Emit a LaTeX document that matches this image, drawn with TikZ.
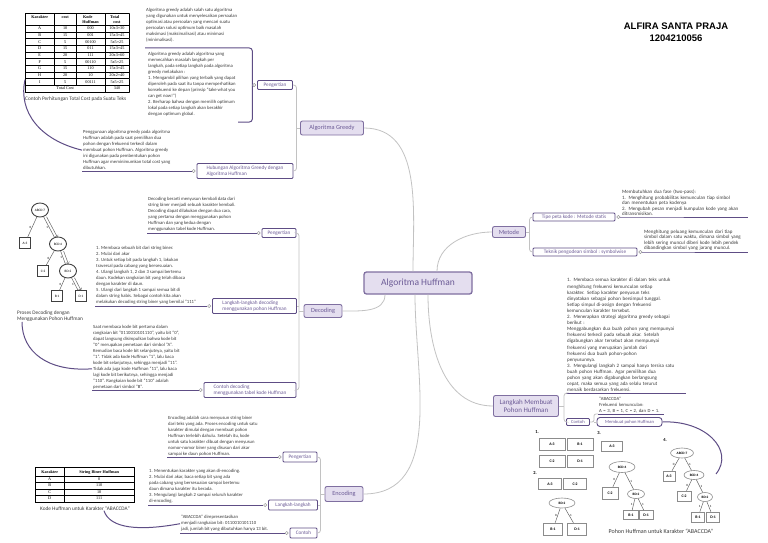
\documentclass[tikz,border=0pt]{standalone}
\usepackage{fontspec}
\setmainfont{Carlito}
\newfontfamily\titlefont{Liberation Sans}
\newfontfamily\tabfont{Liberation Serif}
\usepackage{array}
\usepackage{xcolor}
\usetikzlibrary{shapes.geometric,arrows,positioning}

\definecolor{mmfill}{HTML}{E4DEEF}
\definecolor{mmedge}{HTML}{7F6FA0}
\definecolor{mmtext}{HTML}{6C5B96}
\definecolor{mmline}{HTML}{5E4D85}
\definecolor{linegray}{HTML}{C2C2C2}
\definecolor{knobgray}{HTML}{9A9A9A}
\definecolor{notegray}{HTML}{3A3A3A}

\newcolumntype{C}[1]{>{\centering\arraybackslash}p{#1}}
\setlength{\tabcolsep}{1pt}

\begin{document}
\begin{tikzpicture}[x=1pt, y=-1pt,
    central/.style={rectangle, draw=mmedge, line width=1.3pt, fill=mmfill, rounded corners=2.5pt, text=mmtext, font=\fontsize{9.5}{11}\selectfont, minimum width=108pt, minimum height=22pt},
    topic/.style={rectangle, draw=mmedge, line width=0.9pt, fill=mmfill, rounded corners=2pt, text=mmtext, font=\fontsize{6.3}{7.5}\selectfont, align=center, inner sep=1pt},
    subtopic/.style={rectangle, draw=mmline, line width=0.9pt, fill=white, rounded corners=1pt, text=mmtext, font=\fontsize{5.2}{6.2}\selectfont, align=left, inner sep=1pt},
    note/.style={align=left, inner sep=1pt, text=notegray, font=\fontsize{4.7}{6}\selectfont},
    caption/.style={align=left, inner sep=0pt, text=notegray, font=\fontsize{5.3}{6}\selectfont},
    knob/.style={circle, draw=knobgray, fill=white, line width=0.5pt, inner sep=0pt, minimum size=3.2pt},
    branch/.style={draw=linegray, line width=0.8pt},
    uline/.style={draw=mmline, line width=1pt},
    relation/.style={draw=mmline, line width=1pt},
    tabnode/.style={draw=black!80, line width=0.7pt, inner sep=0pt, font=\tabfont\fontsize{4.2}{4.9}\selectfont},
    leafbox/.style 2 args={rectangle, draw=black!45, fill=white, line width=0.6pt, inner sep=0pt, minimum width=#1pt, minimum height=#2pt, font=\bfseries\fontsize{3.8}{4}\selectfont},
    joinell/.style 2 args={ellipse, draw=black!45, fill=white, line width=0.6pt, inner sep=0pt, minimum width=#1pt, minimum height=#2pt, font=\bfseries\fontsize{3.4}{4}\selectfont},
    stepnum/.style={font=\bfseries\fontsize{4.5}{5}\selectfont, inner sep=0pt},
    dleaf/.style={rectangle, draw=black!75, fill=white, line width=0.6pt, inner sep=0pt, minimum size=11pt, font=\fontsize{3.4}{4}\selectfont},
    dinner/.style={ellipse, draw=black!75, fill=white, line width=0.9pt, inner sep=0pt, minimum width=17pt, minimum height=14pt, font=\fontsize{3.4}{4}\selectfont},
    tedge/.style={draw=black!60, line width=0.5pt},
    elab/.style={font=\fontsize{3.2}{4}\selectfont, inner sep=0.8pt}
]
\useasboundingbox (0,0) rectangle (768,543);

% Title
\node[font=\titlefont\bfseries\fontsize{9.5}{12.5}\selectfont, align=center] (author) at (676,32) {ALFIRA SANTA PRAJA\\1204210056};

% Central topic
\node[central] (huff) at (418,283) {Algoritma Huffman};

% Main topics
\node[topic, minimum width=63pt, minimum height=14pt] (greedy) at (332,128) {Algoritma Greedy};
\node[topic, minimum width=38pt, minimum height=13pt] (decod) at (323,311) {Decoding};
\node[topic, minimum width=38pt, minimum height=15pt] (encod) at (344,494) {Encoding};
\node[topic, minimum width=33pt, minimum height=11pt] (metode) at (509,232) {Metode};
\node[topic, minimum width=65pt, minimum height=21pt, font=\fontsize{7}{8}\selectfont] (langkah) at (526,406) {Langkah Membuat\\Pohon Huffman};

\draw[branch] (greedy.east) to[out=0, in=90] ([xshift=-5pt]huff.north);
\draw[branch] (metode.west) to[out=180, in=90] ([xshift=19pt]huff.north);
\draw[branch] (decod.east) to[out=0, in=-90] ([xshift=-33pt]huff.south);
\draw[branch] (encod.east) to[out=0, in=-90] ([xshift=-3pt]huff.south);
\draw[branch] (langkah.west) to[out=180, in=-90] ([xshift=10pt]huff.south);

% Algoritma Greedy
\node[subtopic, minimum width=35pt, minimum height=9pt] (gpeng) at (275,85) {Pengertian};
\node[subtopic, minimum width=96pt, minimum height=15pt] (ghub) at (245,171) {Hubungan Algoritma Greedy dengan\\Algoritma Huffman};
\coordinate[left=3.5pt of greedy] (gj);
\draw[branch] (greedy.west) -- (gj);
\draw[branch, rounded corners=3pt] (gpeng.east) -| (gj) |- (ghub.east);
\node[knob, left=1pt of gpeng] (kgpeng) {};
\node[knob, left=1pt of ghub] (kghub) {};

\node[note, anchor=north west] (gdef1) at (145,7) {Algoritma greedy adalah salah satu algoritma\\
yang digunakan untuk menyelesaikan persoalan\\
optimasi atau persoalan yang mencari suatu\\
persoalan solusi optimum baik masalah\\
maksimasi (maksimalisasi) atau minimasi\\
(minimalisasi).};
\node[note, anchor=north west] (gdef2) at (147,51) {Algoritma greedy adalah algoritma yang\\
memecahkan masalah langkah per\\
langkah, pada setiap langkah pada algoritma\\
greedy melakukan :\\
1. Mengambil pilihan yang terbaik yang dapat\\
diperoleh pada saat itu tanpa memperhatikan\\
konsekuensi ke depan (prinsip ``take what you\\
can get now!'')\\
2. Berharap bahwa dengan memilih optimum\\
lokal pada setiap langkah akan berakhir\\
dengan optimum global.};
\draw[uline, rounded corners=3pt] ([xshift=-2pt, yshift=3pt]gdef2.north west) -| (kgpeng.west) |- (238,122);
\node[knob, left=1pt of gpeng] {};

\node[note, anchor=south west] (hubn) at (82,171) {Penggunaan algoritma greedy pada algoritma\\
Huffman adalah pada saat pemilihan dua\\
pohon dengan frekuensi terkecil dalam\\
membuat pohon Huffman. Algoritma greedy\\
ini digunakan pada pembentukan pohon\\
Huffman agar meminimumkan total cost yang\\
dibutuhkan.};
\draw[uline] (hubn.south west) -- (kghub.west);

% Tabel total cost
\node[tabnode, anchor=north west] (costtab) at (25,13) {\renewcommand{\arraystretch}{1.28}%
\begin{tabular}{|C{26pt}|C{20pt}|C{26pt}|C{22pt}|}
\hline
\textbf{Karakter} & \textbf{cost} & \textbf{Kode}\newline\textbf{Huffman} & \textbf{Total}\newline\textbf{cost}\\ \hline
A & 10 & 000 & 10x3=30\\ \hline
B & 15 & 001 & 15x3=45\\ \hline
C & 5 & 00100 & 5x5=25\\ \hline
D & 15 & 011 & 15x3=45\\ \hline
E & 20 & 111 & 20x3=60\\ \hline
F & 5 & 00110 & 5x5=25\\ \hline
G & 15 & 110 & 15x3=45\\ \hline
H & 20 & 10 & 20x2=40\\ \hline
I & 5 & 00111 & 5x5=25\\ \hline
\multicolumn{3}{|c|}{Total Cost} & 340\\ \hline
\end{tabular}};
\node[caption, below=4pt of costtab.south west, anchor=north west] (ccap) {Contoh Perhitungan Total Cost pada Suatu Teks};
\draw[relation] ([yshift=-27pt]costtab.west) .. controls (18,112) and (40,140) .. (hubn.west);

% Decoding
\node[subtopic, minimum width=34pt, minimum height=9pt] (dpeng) at (279,233) {Pengertian};
\node[subtopic, minimum width=84pt, minimum height=15pt] (dlang) at (254.5,306) {Langkah-langkah decoding\\menggunakan pohon Huffman};
\node[subtopic, minimum width=92pt, minimum height=15pt] (dcont) at (250,390) {Contoh decoding\\menggunakan tabel kode Huffman};
\coordinate[left=4.5pt of decod] (dj);
\draw[branch] (decod.west) -- (dj);
\draw[branch, rounded corners=3pt] (dpeng.east) -| (dj) |- (dcont.east);
\draw[branch] (dlang.east) -- (dlang.east -| dj);
\node[knob, left=1pt of dpeng] (kdpeng) {};
\node[knob, left=1pt of dlang] (kdlang) {};
\node[knob, left=1pt of dcont] (kdcont) {};

\node[note, anchor=south west] (dpn) at (147,233) {Decoding berarti menyusun kembali data dari\\
string biner menjadi sebuah karakter kembali.\\
Decoding dapat dilakukan dengan dua cara,\\
yang pertama dengan menggunakan pohon\\
Huffman dan yang kedua dengan\\
menggunakan tabel kode Huffman.};
\draw[uline] (dpn.south west) -- (kdpeng.west);

\node[note, anchor=south west] (dln) at (95,306) {1. Membaca sebuah bit dari string biner.\\
2. Mulai dari akar\\
3. Untuk setiap bit pada langkah 1, lakukan\\
traversal pada cabang yang bersesuaian.\\
4. Ulangi langkah 1, 2 dan 3 sampai bertemu\\
daun. Kodekan rangkaian bit yang telah dibaca\\
dengan karakter di daun.\\
5. Ulangi dari langkah 1 sampai semua bit di\\
dalam string habis. Sebagai contoh kita akan\\
melakukan decoding string biner yang bernilai ``111''};
\draw[uline] (dln.south west) -- (kdlang.west);

\node[note, anchor=south west] (dcn) at (92,390) {Saat membaca kode bit pertama dalam\\
rangkaian bit ``0110010101110'', yaitu bit ``0'',\\
dapat langsung disimpulkan bahwa kode bit\\
``0'' merupakan pemetaan dari simbol ``A''.\\
Kemudian baca kode bit selanjutnya, yaitu bit\\
``1''. Tidak ada kode Huffman ``1'', lalu baca\\
kode bit selanjutnya, sehingga menjadi ``11''.\\
Tidak ada juga kode Huffman ``11'', lalu baca\\
lagi kode bit berikutnya, sehingga menjadi\\
``110''. Rangkaian kode bit ``110'' adalah\\
pemetaan dari simbol ``B''.};
\draw[uline] (dcn.south west) -- (kdcont.west);

% Pohon decoding
\node[dinner] (droot) at (40,210) {ABCD:7};
\node[dleaf] (dA) at (25,243) {A:3};
\node[dinner] (dBCD) at (58,244) {BCD:4};
\node[dleaf] (dC) at (43,271) {C:2};
\node[dinner] (dBD) at (68,271) {BD:2};
\node[dleaf] (dB) at (57,296) {B:1};
\node[dleaf] (dD) at (81,296) {D:1};
\draw[tedge] (droot) -- node[elab, left] {0} (dA);
\draw[tedge] (droot) -- node[elab, left] {1} (dBCD);
\draw[tedge] (dBCD) -- node[elab, left] {0} (dC);
\draw[tedge] (dBCD) -- node[elab, left] {1} (dBD);
\draw[tedge] (dBD) -- node[elab, left] {0} (dB);
\draw[tedge] (dBD) -- node[elab, left] {1} (dD);
\draw[->, tedge, transform canvas={xshift=3pt}] (droot) -- (dBCD);
\draw[->, tedge, transform canvas={xshift=3pt}] (dBCD) -- (dBD);
\draw[->, tedge, transform canvas={xshift=3pt}] (dBD) -- (dD);
\node[caption, anchor=north west] (dcap) at (17,311) {Proses Decoding dengan\\Menggunakan Pohon Huffman};
\draw[relation] ([xshift=5pt]dcap.south west) .. controls (22,352) and (48,372) .. ([yshift=-12pt]dcn.west);

% Encoding
\node[subtopic, minimum width=34pt, minimum height=10pt] (epeng) at (300,457) {Pengertian};
\node[subtopic, minimum width=49pt, minimum height=10pt] (elang) at (293,505) {Langkah-langkah};
\node[subtopic, minimum width=27pt, minimum height=10pt] (econt) at (303.5,533) {Contoh};
\coordinate[left=4pt of encod] (ej);
\draw[branch] (encod.west) -- (ej);
\draw[branch, rounded corners=3pt] (epeng.east) -| (ej) |- (econt.east);
\draw[branch] (elang.east) -- (elang.east -| ej);
\node[knob, left=1pt of epeng] (kepeng) {};
\node[knob, left=1pt of elang] (kelang) {};
\node[knob, left=1pt of econt] (kecont) {};

\node[note, anchor=south west] (epn) at (167,457) {Encoding adalah cara menyusun string biner\\
dari teks yang ada. Proses encoding untuk satu\\
karakter dimulai dengan membuat pohon\\
Huffman terlebih dahulu. Setelah itu, kode\\
untuk satu karakter dibuat dengan menyusun\\
nomor-nomor biner yang disusun dari akar\\
sampai ke daun pohon Huffman.};
\draw[uline] (epn.south west) -- (kepeng.west);

\node[note, anchor=south west] (eln) at (148,505) {1. Menentukan karakter yang akan di-encoding.\\
2. Mulai dari akar, baca setiap bit yang ada\\
pada cabang yang bersesuaian sampai bertemu\\
daun dimana karakter itu berada.\\
3. Mengulangi langkah 2 sampai seluruh karakter\\
di-encoding.};
\draw[uline] (eln.south west) -- (kelang.west);

\node[note, anchor=south west] (ecn) at (180,533) {``ABACCDA'' direpresentasikan\\
menjadi rangkaian bit: 0110010101110\\
jadi, jumlah bit yang dibutuhkan hanya 13 bit.};
\draw[uline] (ecn.south west) -- (kecont.west);

% Tabel kode Huffman
\node[tabnode, anchor=north west] (enctab) at (35,467) {\renewcommand{\arraystretch}{1.25}%
\begin{tabular}{|C{26pt}|C{68pt}|}
\hline
\rule{0pt}{6pt}\textbf{Karakter} & \textbf{String Biner Huffman}\\ \hline
A & 0\\ \hline
B & 110\\ \hline
C & 10\\ \hline
D & 111\\ \hline
\end{tabular}};
\node[caption, below=4pt of enctab] (ecap) {Kode Huffman untuk Karakter ``ABACCDA''};
\draw[relation] ([xshift=19pt]ecap.south) .. controls (110,529) and (140,531) .. (ecn.west);

% Metode
\node[subtopic, minimum width=82pt, minimum height=8pt] (mtipe) at (574,217) {Tipe peta kode : Metode statis};
\node[subtopic, minimum width=104pt, minimum height=8pt] (mtek) at (585,252) {Teknik pengodean simbol : symbolwise};
\coordinate[right=3.5pt of metode] (mj);
\draw[branch] (metode.east) -- (mj);
\draw[branch, rounded corners=3pt] (mtipe.west) -| (mj) |- (mtek.west);
\node[knob, right=1pt of mtipe] (kmtipe) {};
\node[knob, right=1pt of mtek] (kmtek) {};

\node[note, anchor=south west, text width=125pt, font=\fontsize{5}{5.5}\selectfont] (mtn) at (621,217) {Membutuhkan dua fase (two-pass):\\
1. Menghitung probabilitas kemunculan tiap simbol\\
dan menentukan peta kodenya\\
2. Mengubah pesan menjadi kumpulan kode yang akan\\
ditransmisikan.};
\draw[uline] (kmtipe.east) -- (mtn.south west) -- (mtn.south east);

\node[note, anchor=south west, text width=103pt, font=\fontsize{5}{5.5}\selectfont] (mtkn) at (643,252) {Menghitung peluang kemunculan dari tiap\\
simbol dalam satu waktu, dimana simbol yang\\
lebih sering muncul diberi kode lebih pendek\\
dibandingkan simbol yang jarang muncul.};
\draw[uline] (kmtek.east) -- (mtkn.south west) -- (mtkn.south east);

% Langkah membuat pohon Huffman
\node[note, anchor=south west, text width=118pt, font=\fontsize{5}{6.1}\selectfont] (lbig) at (566,393) {1. Membaca semua karakter di dalam teks untuk\\
menghitung frekuensi kemunculan setiap\\
karakter. Setiap karakter penyusun teks\\
dinyatakan sebagai pohon bersimpul tunggal.\\
Setiap simpul di-assign dengan frekuensi\\
kemunculan karakter tersebut.\\
2. Menerapkan strategi algoritma greedy sebagai\\
berikut :\\
Menggabungkan dua buah pohon yang mempunyai\\
frekuensi terkecil pada sebuah akar. Setelah\\
digabungkan akar tersebut akan mempunyai\\
frekuensi yang merupakan jumlah dari\\
frekuensi dua buah pohon-pohon\\
penyusunnya.\\
3. Mengulangi langkah 2 sampai hanya tersisa satu\\
buah pohon Huffman. Agar pemilihan dua\\
pohon yang akan digabungkan berlangsung\\
cepat, maka semua yang ada selalu terurut\\
menaik berdasarkan frekuensi.};
\draw[uline] (lbig.south west) -- (lbig.south east);
\node[subtopic, minimum width=23pt, minimum height=7pt, font=\fontsize{4.6}{5}\selectfont] (lcont) at (578,422) {Contoh};
\coordinate[right=5pt of langkah] (lj);
\draw[branch] (langkah.east) -- (lj);
\draw[branch, rounded corners=3pt] (lbig.south west) -| (lj) |- (lcont.west);

\node[note, anchor=south west, text width=64pt] (abn) at (598,414) {``ABACCDA''\\
Frekuensi kemunculan:\\
A = 3, B = 1, C = 2, dan D = 1.};
\draw[uline] (abn.south west) -- (abn.south east);
\node[subtopic, rounded corners=3pt, minimum width=65pt, minimum height=9pt, font=\fontsize{4.6}{5}\selectfont] (lbuat) at (629.5,422) {Membuat pohon Huffman};
\coordinate[right=4pt of lcont] (cj);
\draw[branch, rounded corners=2pt] (lcont.east) -- (cj) |- (abn.south west);
\draw[branch] (cj) -- (lbuat.west);

% Tahap 1
\node[stepnum] (s1) at (537,432) {1.};
\node[leafbox={26}{12}] (a1) at (552,444) {A:3};
\node[leafbox={26}{12}] (b1) at (580,444) {B:1};
\node[leafbox={26}{12}] (c1) at (552,461) {C:2};
\node[leafbox={26}{12}] (d1) at (580,461) {D:1};

% Tahap 2
\node[stepnum] (s2) at (535,473) {2.};
\node[leafbox={23}{11}] (a2) at (550,484) {A:3};
\node[leafbox={23}{11}] (c2) at (575,484) {C:2};
\node[joinell={26}{10}] (bd2) at (562,503) {BD:2};
\node[leafbox={19}{12}] (b2) at (553,529) {B:1};
\node[leafbox={19}{12}] (d2) at (577,529) {D:1};
\draw[tedge] (bd2) -- node[elab, left] {0} (b2);
\draw[tedge] (bd2) -- node[elab, right] {1} (d2);

% Tahap 3
\node[stepnum] (s3) at (599,433) {3.};
\node[leafbox={21}{10}] (a3) at (612,446) {A:3};
\node[joinell={26}{11}] (bcd3) at (622,467) {BCD:4};
\node[leafbox={16}{12}] (c3) at (610,493) {C:2};
\node[joinell={17}{9}] (bd3) at (636,494) {BD:2};
\node[leafbox={15}{9}] (b3) at (631,515) {B:1};
\node[leafbox={14}{9}] (d3) at (646,515) {D:1};
\draw[tedge] (bcd3) -- node[elab, left] {0} (c3);
\draw[tedge] (bcd3) -- node[elab, right] {1} (bd3);
\draw[tedge] (bd3) -- node[elab, left] {1} (b3);
\draw[tedge] (bd3) -- node[elab, right] {1} (d3);

% Tahap 4
\node[stepnum] (s4) at (665,440) {4.};
\node[joinell={23}{10}] (abcd4) at (682,453) {ABCD:7};
\node[leafbox={12}{10}] (a4) at (669,476) {A:3};
\node[joinell={20}{9}] (bcd4) at (694,475) {BCD:4};
\node[leafbox={14}{10}] (c4) at (684,496) {C:2};
\node[joinell={15}{9}] (bd4) at (705,497) {BD:2};
\node[leafbox={13}{10}] (b4) at (698,517) {B:1};
\node[leafbox={13}{10}] (d4) at (713,517) {D:1};
\draw[tedge] (abcd4) -- node[elab, left] {0} (a4);
\draw[tedge] (abcd4) -- node[elab, right] {1} (bcd4);
\draw[tedge] (bcd4) -- node[elab, left] {0} (c4);
\draw[tedge] (bcd4) -- node[elab, right] {1} (bd4);
\draw[tedge] (bd4) -- node[elab, left] {1} (b4);
\draw[tedge] (bd4) -- node[elab, right] {1} (d4);

\node[caption, font=\fontsize{6}{7}\selectfont] (hcap) at (661,531) {Pohon Huffman untuk Karakter ``ABACCDA''};
\coordinate (relend) at (716,474);
\draw[relation] (lbuat.east) .. controls (705,420) and (735,450) .. (relend);

\end{tikzpicture}
\end{document}
